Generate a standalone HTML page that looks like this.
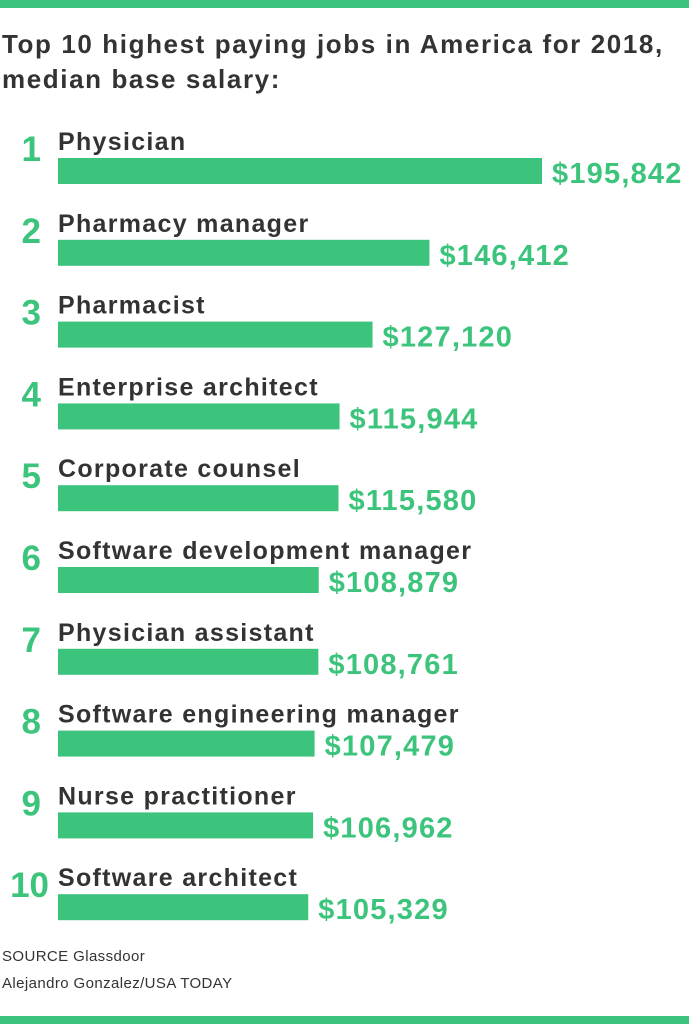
<!DOCTYPE html>
<html><head><meta charset="utf-8"><style>
body{margin:0;width:689px;height:1024px;background:#fff;position:relative;overflow:hidden;font-family:"Liberation Sans",sans-serif}
.band{position:absolute;left:0;width:689px;height:8px;background:#3cc47c}
#title{position:absolute;left:2px;top:27px;font-size:26px;font-weight:bold;color:#333;line-height:35px;letter-spacing:1.6px;white-space:nowrap}
.src{position:absolute;left:2px;font-size:15px;color:#333;letter-spacing:0.4px}
</style></head><body>
<div class="band" style="top:0"></div>
<div id="title">Top 10 highest paying jobs in America for 2018,<br>median base salary:</div>
<svg id="chart" width="689" height="1024" style="position:absolute;left:0;top:0"></svg>
<div class="src" style="top:948px">SOURCE Glassdoor</div>
<div class="src" style="top:975px">Alejandro Gonzalez/USA TODAY</div>
<div class="band" style="top:1016px"></div>
<script>
const jobs=["Physician","Pharmacy manager","Pharmacist","Enterprise architect","Corporate counsel","Software development manager","Physician assistant","Software engineering manager","Nurse practitioner","Software architect"];
const salaries=[195842,146412,127120,115944,115580,108879,108761,107479,106962,105329];
const valueLabels=["$195,842","$146,412","$127,120","$115,944","$115,580","$108,879","$108,761","$107,479","$106,962","$105,329"];
const svg=document.getElementById('chart');
const NS='http://www.w3.org/2000/svg';
const x0=58, maxW=484;
function xScale(v){return Math.max(0,Math.min(maxW,(v-20500)*0.00295));}
function yRow(i){return 158+i*81.8;}
jobs.forEach((j,i)=>{
  const y=yRow(i), w=xScale(salaries[i]);
  const rank=document.createElementNS(NS,'text');
  rank.setAttribute('x',i===9?49:41);rank.setAttribute('y',y+3);rank.setAttribute('text-anchor','end');
  rank.setAttribute('font-size','35');rank.setAttribute('font-weight','bold');rank.setAttribute('fill','#3cc47c');
  rank.setAttribute('font-family','Liberation Sans, sans-serif');rank.textContent=String(i+1);
  
  
  svg.appendChild(rank);
  const lab=document.createElementNS(NS,'text');
  lab.setAttribute('x',x0);lab.setAttribute('y',y-8);lab.setAttribute('font-size','25');lab.setAttribute('font-weight','bold');
  lab.setAttribute('letter-spacing','1.3');
  lab.setAttribute('fill','#333');lab.setAttribute('font-family','Liberation Sans, sans-serif');lab.textContent=j;
  
  
  svg.appendChild(lab);
  const r=document.createElementNS(NS,'rect');
  r.setAttribute('x',x0);r.setAttribute('y',y);r.setAttribute('width',w);r.setAttribute('height',26);r.setAttribute('fill','#3cc47c');
  
  
  svg.appendChild(r);
  const v=document.createElementNS(NS,'text');
  v.setAttribute('x',x0+w+10);v.setAttribute('y',y+25);v.setAttribute('font-size','29');v.setAttribute('font-weight','bold');
  v.setAttribute('letter-spacing','1.2');
  v.setAttribute('fill','#3cc47c');v.setAttribute('font-family','Liberation Sans, sans-serif');v.textContent=valueLabels[i];
  
  
  svg.appendChild(v);
});
</script>
</body></html>
